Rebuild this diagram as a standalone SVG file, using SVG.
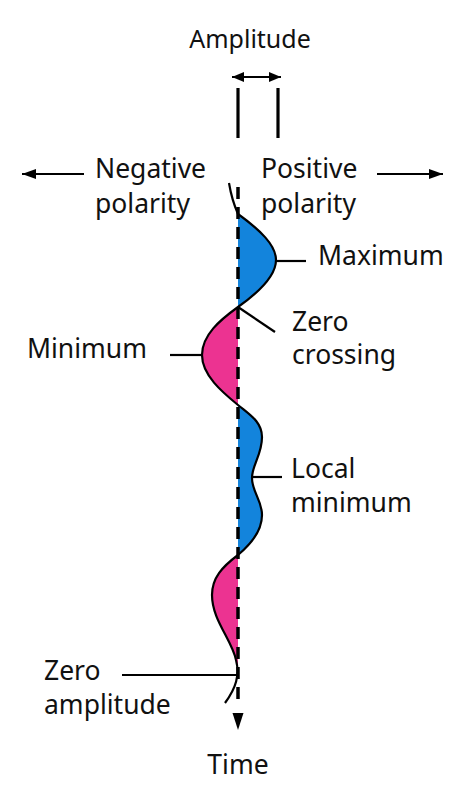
<svg xmlns="http://www.w3.org/2000/svg" width="474" height="805" viewBox="0 0 474 805">
<style>
text{font-family:"Noto Sans","Open Sans",sans-serif;font-size:26.5px;fill:#111}
.thick{stroke:#000;stroke-width:3.2;fill:none}
.thin{stroke:#000;stroke-width:2.2;fill:none}
.dash{stroke:#000;stroke-width:3.5;fill:none;stroke-dasharray:12,8}
.blue{fill:#1384dc}
.pink{fill:#ec3391}
</style>
<defs>
<marker id="ah" viewBox="0 0 12 10" refX="12" refY="5" markerWidth="12" markerHeight="10" markerUnits="userSpaceOnUse" orient="auto-start-reverse">
<path d="M0,0 L12,5 L0,10 Z" fill="#000"/>
</marker>
<marker id="ah2" viewBox="0 0 14 10" refX="14" refY="5" markerWidth="14" markerHeight="10" markerUnits="userSpaceOnUse" orient="auto-start-reverse">
<path d="M0,0 L14,5 L0,10 Z" fill="#000"/>
</marker>
</defs>
<g id="fills">
<path class="blue" d="M238,214 C260,230 276,245 276,260 C276,278 255,295 238,307 Z"/>
<path class="pink" d="M238,307 C220,320 202,335 202,355 C202,375 222,392 238,405 Z"/>
<path class="blue" d="M238,405 C250,415 262,422 262,437 C262,455 252,465 252,478 C252,492 262,500 262,515 C262,532 250,545 238,555 Z"/>
<path class="pink" d="M238,555 C222,567 212,578 212,595 C212,620 232,640 236,660 C237,665 238,668 238,672 Z"/>
</g>
<g id="connectors">
<line class="dash" x1="238" y1="187" x2="238" y2="702"/>
<path d="M232.5,713 L243.5,713 L238,730 Z" fill="#000"/>
<path class="thin" d="M229,183 C231,195 234,205 238,214 C260,230 276,245 276,260 C276,278 255,295 238,307 C220,320 202,335 202,355 C202,375 222,392 238,405 C250,415 262,422 262,437 C262,455 252,465 252,478 C252,492 262,500 262,515 C262,532 250,545 238,555 C222,567 212,578 212,595 C212,620 232,640 236,660 C240,675 236,688 225,703"/>
<line class="thick" x1="238" y1="88" x2="238" y2="138"/>
<line class="thick" x1="278" y1="88" x2="278" y2="138"/>
<line class="thin" x1="232" y1="77" x2="281" y2="77" marker-start="url(#ah)" marker-end="url(#ah)"/>
<line class="thin" x1="84" y1="174" x2="22" y2="174" marker-end="url(#ah2)"/>
<line class="thin" x1="377" y1="174" x2="443" y2="174" marker-end="url(#ah2)"/>
<line class="thin" x1="276" y1="261" x2="306" y2="261"/>
<line class="thin" x1="238" y1="307" x2="275" y2="332"/>
<line class="thin" x1="170" y1="355" x2="202" y2="355"/>
<line class="thin" x1="253" y1="477" x2="282" y2="477"/>
<line class="thin" x1="122" y1="675" x2="238" y2="675"/>
</g>
<g id="labels">
<text x="250" y="48" text-anchor="middle" style="font-size:25px">Amplitude</text>
<text x="95" y="178">Negative</text>
<text x="95" y="213">polarity</text>
<text x="261" y="178">Positive</text>
<text x="261" y="213">polarity</text>
<text x="318" y="265">Maximum</text>
<text x="292" y="331">Zero</text>
<text x="292" y="364">crossing</text>
<text x="27" y="358">Minimum</text>
<text x="291" y="478">Local</text>
<text x="291" y="512">minimum</text>
<text x="44" y="680">Zero</text>
<text x="44" y="714">amplitude</text>
<text x="238" y="774" text-anchor="middle">Time</text>
</g>
</svg>
